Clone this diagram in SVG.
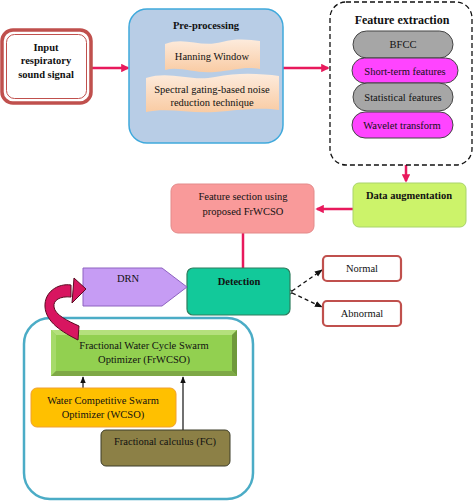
<svg xmlns="http://www.w3.org/2000/svg" width="474" height="502" viewBox="0 0 474 502" font-family="'Liberation Serif','Times New Roman',serif">
<defs>
<style>
text{font-family:"Liberation Serif","Times New Roman",serif;font-size:10.5px;fill:#111;text-anchor:middle}
.b{font-weight:bold}
.pink{stroke:#e8195c;stroke-width:2.5;fill:none}
.blk{stroke:#111;stroke-width:1.2;fill:none}
.dash{stroke:#111;stroke-width:1.3;fill:none;stroke-dasharray:4 3}
.pillg{fill:#a6a6a6;stroke:#444;stroke-width:1}
.pillm{fill:#ff44ff;stroke:#444;stroke-width:1}
.res{fill:#fff;stroke:#c0504d;stroke-width:2.2}
</style>
<marker id="ap" viewBox="0 0 10 10" refX="8" refY="5" markerWidth="3.4" markerHeight="3.4" orient="auto"><path d="M0,0 L10,5 L0,10 z" fill="#e8195c"/></marker>
<marker id="ab" viewBox="0 0 10 10" refX="9" refY="5" markerWidth="6" markerHeight="6" orient="auto"><path d="M0,1 L10,5 L0,9 z" fill="#111"/></marker>
<linearGradient id="wave" x1="0" y1="0" x2="0" y2="1"><stop offset="0" stop-color="#fdebdc"/><stop offset="1" stop-color="#f9cba3"/></linearGradient>
</defs>

<g id="connectors">
<line class="pink" x1="92" y1="68" x2="128" y2="68" marker-end="url(#ap)"/>
<line class="pink" x1="283" y1="68" x2="328" y2="68" marker-end="url(#ap)"/>
<line class="pink" x1="406" y1="138" x2="406" y2="181" marker-end="url(#ap)"/>
<line class="pink" x1="353" y1="209" x2="317" y2="209" marker-end="url(#ap)"/>
<line class="pink" x1="243" y1="233" x2="243" y2="268"/>
<circle cx="290" cy="292" r="2" fill="#fff" stroke="#111" stroke-width="1"/>
<line class="dash" x1="292" y1="291" x2="322" y2="270" marker-end="url(#ab)"/>
<line class="dash" x1="292" y1="293" x2="322" y2="307" marker-end="url(#ab)"/>
<line class="blk" x1="83" y1="388" x2="83" y2="377" marker-end="url(#ab)"/>
<line class="blk" x1="183" y1="430" x2="183" y2="377" marker-end="url(#ab)"/>
</g>

<g id="input">
<rect x="2" y="30" width="89" height="73" rx="11" fill="#fff" stroke="#c0504d" stroke-width="3.5"/>
<rect x="6.5" y="34.5" width="80" height="64" rx="8" fill="none" stroke="#c0504d" stroke-width="1"/>
<text class="b" x="46" y="51">Input</text>
<text class="b" x="46" y="64">respiratory</text>
<text class="b" x="46" y="78">sound signal</text>
</g>

<g id="preprocessing">
<rect x="129" y="9" width="154" height="134" rx="18" fill="#b8cde6" stroke="#3fa9dc" stroke-width="1.5"/>
<text class="b" x="206" y="29">Pre-processing</text>
<path d="M165,44 C185,36 200,48 222,42 C238,38 250,40 260,41 L260,69 C245,66 235,70 215,72 C195,74 180,66 165,70 Z" fill="url(#wave)"/>
<text x="212" y="60">Hanning Window</text>
<path d="M146,78 C170,70 190,82 215,77 C240,72 262,74 279,76 L279,110 C262,107 240,110 215,112 C190,114 168,107 146,112 Z" fill="url(#wave)"/>
<text x="212" y="93">Spectral gating-based noise</text>
<text x="212" y="106">reduction technique</text>
</g>

<g id="feature-extraction">
<rect x="330" y="2" width="142" height="163" rx="16" fill="#fff" stroke="#111" stroke-width="1.3" stroke-dasharray="5 3"/>
<text class="b" x="402" y="24" style="font-size:12px">Feature extraction</text>
<rect class="pillg" x="353" y="31" width="100" height="27" rx="13.5"/>
<text x="403" y="48">BFCC</text>
<rect class="pillm" x="352" y="58" width="106" height="25" rx="12.5"/>
<text x="405" y="75">Short-term features</text>
<rect class="pillg" x="353" y="83" width="100" height="28" rx="14"/>
<text x="403" y="101">Statistical features</text>
<rect class="pillm" x="352" y="112" width="101" height="26" rx="13"/>
<text x="402" y="129">Wavelet transform</text>
</g>

<g id="data-augmentation">
<rect x="353" y="183" width="113" height="44" rx="6" fill="#ccf36a" stroke="#a9d46a" stroke-width="1"/>
<text class="b" x="409" y="199">Data augmentation</text>
</g>

<g id="feature-selection">
<rect x="171" y="184" width="143" height="49" rx="7" fill="#f99a9a" stroke="#e38a8a" stroke-width="1"/>
<text x="243" y="200">Feature section using</text>
<text x="243" y="215">proposed FrWCSO</text>
</g>

<g id="detection">
<rect x="187" y="268" width="103" height="47" rx="6" fill="#12c99a" stroke="#2e7d5e" stroke-width="1.2"/>
<text class="b" x="239" y="285">Detection</text>
</g>

<g id="normal">
<rect class="res" x="323" y="256" width="78" height="25" rx="4"/>
<text x="362" y="272">Normal</text>
</g>

<g id="abnormal">
<rect class="res" x="323" y="301" width="78" height="25" rx="4"/>
<text x="362" y="317">Abnormal</text>
</g>

<g id="drn">
<polygon points="83,268 162,268 187,287 162,306 83,306" fill="#c69cf4" stroke="#8e62c0" stroke-width="1"/>
<text x="128" y="282">DRN</text>
</g>

<g id="optimizer-group">
<rect x="24" y="318" width="229" height="181" rx="26" fill="none" stroke="#4bacc6" stroke-width="2.5"/>
</g>

<g id="frwcso">
<rect x="51" y="330" width="186" height="46" fill="#92d050"/>
<polygon points="51,330 237,330 232,335 56,335" fill="#b4e07c"/>
<polygon points="51,330 56,335 56,371 51,376" fill="#a6da6a"/>
<polygon points="237,330 237,376 232,371 232,335" fill="#6f9a3a"/>
<polygon points="51,376 56,371 232,371 237,376" fill="#7ea846"/>
<text x="144" y="349">Fractional Water Cycle Swarm</text>
<text x="144" y="363">Optimizer (FrWCSO)</text>
</g>

<g id="curved-arrow">
<path d="M71,285 C58,283 44,292 45,307 C46,322 62,332 78,340 L79,326 C68,321 55,315 54,307 C53,300 60,296 71,297 Z" fill="#d81560" stroke="#5a0a20" stroke-width="1"/>
<polygon points="86,289 74,278 72,303" fill="#d81560" stroke="#5a0a20" stroke-width="1"/>
</g>

<g id="wcso">
<rect x="31" y="388" width="145" height="39" rx="6" fill="#ffc000" stroke="#f0a030" stroke-width="1"/>
<text x="103" y="404">Water Competitive Swarm</text>
<text x="103" y="418">Optimizer (WCSO)</text>
</g>

<g id="fc">
<rect x="101" y="430" width="129" height="36" rx="5" fill="#8c8046" stroke="#3c3c28" stroke-width="1"/>
<text x="165" y="445">Fractional calculus (FC)</text>
</g>
</svg>
